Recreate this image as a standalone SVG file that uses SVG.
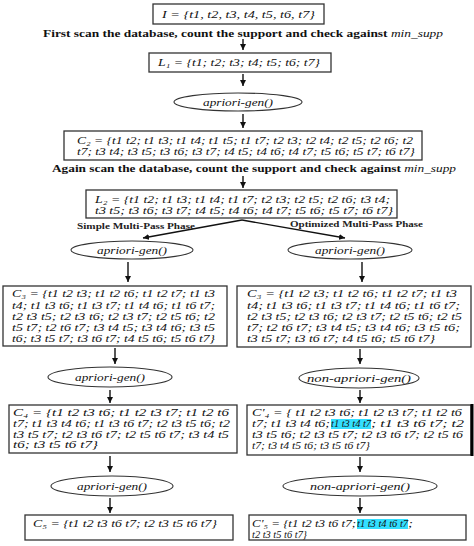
<svg xmlns="http://www.w3.org/2000/svg" width="474" height="546" viewBox="0 0 474 546">
<style>
.bx{fill:#fff;stroke:#333;stroke-width:1.3}
.el{fill:#fff;stroke:#333;stroke-width:1.1}
.t{font-family:"Liberation Serif","DejaVu Serif",serif;font-style:italic;font-size:10.5px;fill:#111}
.e{font-family:"Liberation Serif",serif;font-style:italic;font-size:11px;fill:#111}
.h{font-family:"Liberation Serif",serif;font-weight:bold;font-size:10.5px;fill:#111}
.p{font-family:"Liberation Serif",serif;font-weight:bold;font-size:8.5px;fill:#222}
.c{stroke:#111;stroke-width:1.4;fill:none}
.hl{fill:#33dfff}
</style>
<defs>
<marker id="ah" viewBox="0 0 8 8" refX="8" refY="4" markerWidth="6" markerHeight="6" markerUnits="userSpaceOnUse" orient="auto">
<path d="M0,0 L8,4 L0,8 z" fill="#111"/>
</marker>
</defs>

<g id="connectors">
<line class="c" x1="243" y1="39" x2="243" y2="50" marker-end="url(#ah)"/>
<line class="c" x1="243" y1="74" x2="243" y2="86" marker-end="url(#ah)"/>
<line class="c" x1="243" y1="114" x2="243" y2="128" marker-end="url(#ah)"/>
<line class="c" x1="243" y1="176" x2="243" y2="188" marker-end="url(#ah)"/>
<line class="c" x1="242" y1="220" x2="143" y2="238" marker-end="url(#ah)"/>
<line class="c" x1="242" y1="220" x2="345" y2="238" marker-end="url(#ah)"/>
<line class="c" x1="128" y1="262" x2="128" y2="282" marker-end="url(#ah)"/>
<line class="c" x1="362" y1="262" x2="362" y2="282" marker-end="url(#ah)"/>
<line class="c" x1="115" y1="348" x2="115" y2="364" marker-end="url(#ah)"/>
<line class="c" x1="360" y1="349" x2="360" y2="364" marker-end="url(#ah)"/>
<line class="c" x1="110" y1="390" x2="110" y2="403" marker-end="url(#ah)"/>
<line class="c" x1="360" y1="390" x2="360" y2="403" marker-end="url(#ah)"/>
<line class="c" x1="110" y1="456" x2="110" y2="472" marker-end="url(#ah)"/>
<line class="c" x1="360" y1="457" x2="360" y2="472" marker-end="url(#ah)"/>
<line class="c" x1="110" y1="498" x2="110" y2="513" marker-end="url(#ah)"/>
<line class="c" x1="360" y1="498" x2="360" y2="513" marker-end="url(#ah)"/>
</g>

<g id="labels">
<text class="h" x="43" y="37" textLength="400" lengthAdjust="spacingAndGlyphs">First scan the database, count the support and check against <tspan font-weight="normal" font-style="italic">min_supp</tspan></text>
<text class="h" x="52" y="172" textLength="404" lengthAdjust="spacingAndGlyphs">Again scan the database, count the support and check against <tspan font-weight="normal" font-style="italic">min_supp</tspan></text>
<text class="p" x="77" y="229" textLength="118" lengthAdjust="spacingAndGlyphs">Simple Multi-Pass Phase</text>
<text class="p" x="290" y="227" textLength="133" lengthAdjust="spacingAndGlyphs">Optimized Multi-Pass Phase</text>
</g>

<g id="I">
<rect class="bx" x="153" y="4" width="171" height="20"/>
<text class="t" x="162" y="18" textLength="153" lengthAdjust="spacingAndGlyphs">I = {t1, t2, t3, t4, t5, t6, t7}</text>
</g>

<g id="L1">
<rect class="bx" x="149" y="53" width="182" height="19"/>
<text class="t" x="158" y="66" textLength="162" lengthAdjust="spacingAndGlyphs">L₁ = {t1; t2; t3; t4; t5; t6; t7}</text>
</g>

<g id="gen1">
<ellipse class="el" cx="238" cy="102" rx="64" ry="9"/>
<text class="e" x="203" y="105.5" textLength="70" lengthAdjust="spacingAndGlyphs">apriori-gen()</text>
</g>

<g id="C2">
<rect class="bx" x="64" y="131" width="358" height="29"/>
<text class="t" x="77" y="144" textLength="336" lengthAdjust="spacingAndGlyphs">C₂ = {t1 t2; t1 t3; t1 t4; t1 t5; t1 t7; t2 t3; t2 t4; t2 t5; t2 t6; t2</text>
<text class="t" x="77" y="155" textLength="338" lengthAdjust="spacingAndGlyphs">t7; t3 t4; t3 t5; t3 t6; t3 t7; t4 t5; t4 t6; t4 t7; t5 t6; t5 t7; t6 t7}</text>
</g>

<g id="L2">
<rect class="bx" x="86" y="190" width="311" height="28"/>
<text class="t" x="95" y="203" textLength="295" lengthAdjust="spacingAndGlyphs">L₂ = {t1 t2; t1 t3; t1 t4; t1 t7; t2 t3; t2 t5; t2 t6; t3 t4;</text>
<text class="t" x="95" y="214" textLength="298" lengthAdjust="spacingAndGlyphs">t3 t5; t3 t6; t3 t7; t4 t5; t4 t6; t4 t7; t5 t6; t5 t7; t6 t7}</text>
</g>

<g id="genL1">
<ellipse class="el" cx="132" cy="250" rx="61" ry="9"/>
<text class="e" x="97" y="253.5" textLength="70" lengthAdjust="spacingAndGlyphs">apriori-gen()</text>
</g>

<g id="genR1">
<ellipse class="el" cx="350" cy="250" rx="62" ry="9"/>
<text class="e" x="315" y="253.5" textLength="70" lengthAdjust="spacingAndGlyphs">apriori-gen()</text>
</g>

<g id="C3L">
<rect class="bx" x="3" y="286" width="224" height="60"/>
<text class="t" x="12" y="297" textLength="203" lengthAdjust="spacingAndGlyphs">C₃ = {t1 t2 t3; t1 t2 t6; t1 t2 t7; t1 t3</text>
<text class="t" x="12" y="309" textLength="203" lengthAdjust="spacingAndGlyphs">t4; t1 t3 t6; t1 t3 t7; t1 t4 t6; t1 t6 t7;</text>
<text class="t" x="12" y="320" textLength="203" lengthAdjust="spacingAndGlyphs">t2 t3 t5; t2 t3 t6; t2 t3 t7; t2 t5 t6; t2</text>
<text class="t" x="12" y="331" textLength="203" lengthAdjust="spacingAndGlyphs">t5 t7; t2 t6 t7; t3 t4 t5; t3 t4 t6; t3 t5</text>
<text class="t" x="12" y="342" textLength="203" lengthAdjust="spacingAndGlyphs">t6; t3 t5 t7; t3 t6 t7; t4 t5 t6; t5 t6 t7}</text>
</g>

<g id="C3R">
<rect class="bx" x="237" y="286" width="234" height="61"/>
<text class="t" x="247" y="297" textLength="210" lengthAdjust="spacingAndGlyphs">C₃ = {t1 t2 t3; t1 t2 t6; t1 t2 t7; t1 t3</text>
<text class="t" x="247" y="309" textLength="213" lengthAdjust="spacingAndGlyphs">t4; t1 t3 t6; t1 t3 t7; t1 t4 t6; t1 t6 t7;</text>
<text class="t" x="247" y="320" textLength="215" lengthAdjust="spacingAndGlyphs">t2 t3 t5; t2 t3 t6; t2 t3 t7; t2 t5 t6; t2 t5</text>
<text class="t" x="247" y="331" textLength="213" lengthAdjust="spacingAndGlyphs">t7; t2 t6 t7; t3 t4 t5; t3 t4 t6; t3 t5 t6;</text>
<text class="t" x="247" y="342" textLength="188" lengthAdjust="spacingAndGlyphs">t3 t5 t7; t3 t6 t7; t4 t5 t6; t5 t6 t7}</text>
</g>

<g id="genL2">
<ellipse class="el" cx="110" cy="377" rx="62" ry="10"/>
<text class="e" x="75" y="380.5" textLength="70" lengthAdjust="spacingAndGlyphs">apriori-gen()</text>
</g>

<g id="genR2">
<ellipse class="el" cx="359" cy="378" rx="60" ry="10"/>
<text class="e" x="307" y="381.5" textLength="104" lengthAdjust="spacingAndGlyphs">non-apriori-gen()</text>
</g>

<g id="C4">
<rect class="bx" x="9" y="405" width="228" height="48"/>
<text class="t" x="13" y="416" textLength="216" lengthAdjust="spacingAndGlyphs">C₄ = {t1 t2 t3 t6; t1 t2 t3 t7; t1 t2 t6</text>
<text class="t" x="13" y="427" textLength="217" lengthAdjust="spacingAndGlyphs">t7; t1 t3 t4 t6; t1 t3 t6 t7; t2 t3 t5 t6; t2</text>
<text class="t" x="13" y="438" textLength="216" lengthAdjust="spacingAndGlyphs">t3 t5 t7; t2 t3 t6 t7; t2 t5 t6 t7; t3 t4 t5</text>
<text class="t" x="13" y="448" textLength="85" lengthAdjust="spacingAndGlyphs">t6; t3 t5 t6 t7}</text>
</g>

<g id="C4p">
<rect class="bx" x="247" y="405" width="224" height="50"/>
<line x1="472" y1="404" x2="472" y2="456" stroke="#000" stroke-width="3"/>
<rect class="hl" x="331" y="419" width="40" height="10"/>
<text class="t" x="252" y="416" textLength="210" lengthAdjust="spacingAndGlyphs">C'₄ = { t1 t2 t3 t6; t1 t2 t3 t7; t1 t2 t6</text>
<text class="t" x="252" y="427" textLength="78" lengthAdjust="spacingAndGlyphs">t7; t1 t3 t4 t6; </text>
<text class="t" x="331" y="427" textLength="40" lengthAdjust="spacingAndGlyphs">t1 t3 t4 t7</text>
<text class="t" x="371" y="427" textLength="93" lengthAdjust="spacingAndGlyphs">; t1 t3 t6 t7; t2</text>
<text class="t" x="252" y="438" textLength="211" lengthAdjust="spacingAndGlyphs">t3 t5 t6; t2 t3 t5 t7; t2 t3 t6 t7; t2 t5 t6</text>
<text class="t" x="252" y="449" textLength="118" lengthAdjust="spacingAndGlyphs">t7; t3 t4 t5 t6; t3 t5 t6 t7}</text>
</g>

<g id="genL3">
<ellipse class="el" cx="112" cy="486" rx="61" ry="10"/>
<text class="e" x="77" y="489.5" textLength="70" lengthAdjust="spacingAndGlyphs">apriori-gen()</text>
</g>

<g id="genR3">
<ellipse class="el" cx="360" cy="486" rx="77" ry="10"/>
<text class="e" x="310" y="489.5" textLength="100" lengthAdjust="spacingAndGlyphs">non-apriori-gen()</text>
</g>

<g id="C5">
<rect class="bx" x="25" y="515" width="208" height="25"/>
<text class="t" x="33" y="527" textLength="184" lengthAdjust="spacingAndGlyphs">C₅ = {t1 t2 t3 t6 t7; t2 t3 t5 t6 t7}</text>
</g>

<g id="C5p">
<rect class="bx" x="249" y="515" width="217" height="25"/>
<rect class="hl" x="357" y="519" width="51" height="10"/>
<text class="t" x="252" y="527" textLength="104" lengthAdjust="spacingAndGlyphs">C'₅ = {t1 t2 t3 t6 t7; </text>
<text class="t" x="357" y="527" textLength="51" lengthAdjust="spacingAndGlyphs">t1 t3 t4 t6 t7</text>
<text class="t" x="408" y="527" textLength="5" lengthAdjust="spacingAndGlyphs">;</text>
<text class="t" x="252" y="538" textLength="55" lengthAdjust="spacingAndGlyphs">t2 t3 t5 t6 t7}</text>
</g>
</svg>
